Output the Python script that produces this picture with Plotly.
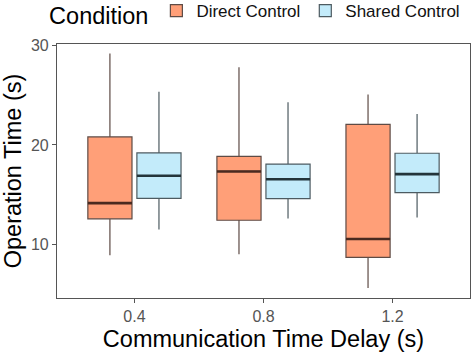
import plotly.graph_objects as go

categories = ["0.4", "0.8", "1.2"]
series_names = ["Direct Control", "Shared Control"]

# Box statistics
direct_low = [8.9, 9.0, 5.6]
direct_q1 = [12.56, 12.42, 8.68]
direct_med = [14.14, 17.33, 10.54]
direct_q3 = [20.8, 18.85, 22.06]
direct_high = [29.2, 27.8, 25.08]

shared_low = [11.5, 12.59, 12.7]
shared_q1 = [14.62, 14.59, 15.2]
shared_med = [16.9, 16.55, 17.06]
shared_q3 = [19.19, 18.07, 19.16]
shared_high = [25.35, 24.3, 23.1]

y_ticks = [10, 20, 30]

FILLS = ["#FF9F78", "#C3EBFA"]
LINES = ["#5e4b45", "#4d5b61"]
MEDS = ["#4a2a20", "#23343a"]
BOXGAP = 0.24
GROUPGAP = 0.1

pos = list(range(len(categories)))
stats = [
    (direct_low, direct_q1, direct_med, direct_q3, direct_high),
    (shared_low, shared_q1, shared_med, shared_q3, shared_high),
]

fig = go.Figure()
n = len(stats)
slot = 0.5 * (1 - BOXGAP)  # width of one trace slot (category width = 1)
half_box = slot * (1 - GROUPGAP) / 2
for k, (lo, q1, med, q3, hi) in enumerate(stats):
    fig.add_trace(go.Box(
        name=series_names[k],
        x=pos,
        lowerfence=lo, q1=q1, median=med, q3=q3, upperfence=hi,
        fillcolor=FILLS[k],
        line=dict(color=LINES[k], width=1.2),
        whiskerwidth=0,
        boxpoints=False,
        offsetgroup=str(k),
    ))
for k, (lo, q1, med, q3, hi) in enumerate(stats):
    off = -slot * (n - 1) / 2 + slot * k
    xs, ys = [], []
    for i, m in zip(pos, med):
        xs += [i + off - half_box, i + off + half_box, None]
        ys += [m, m, None]
    fig.add_trace(go.Scatter(
        x=xs, y=ys, mode="lines",
        line=dict(color=MEDS[k], width=2.6),
        showlegend=False, hoverinfo="skip",
    ))

FONT = "Liberation Sans, Arial, Helvetica, sans-serif"
fig.update_layout(
    width=474, height=356,
    margin=dict(l=57, r=4, t=44, b=58, autoexpand=False),
    paper_bgcolor="white", plot_bgcolor="white",
    boxmode="group", boxgap=BOXGAP, boxgroupgap=GROUPGAP,
    font=dict(family=FONT, color="#000000"),
    showlegend=True,
    legend=dict(
        orientation="h",
        x=-0.024, xanchor="left",
        y=1.12, yanchor="middle",
        title=dict(text="Condition", font=dict(size=23.5, color="#000"), side="left"),
        font=dict(size=17, color="#111"),
        itemwidth=30,
        traceorder="normal",
    ),
    xaxis=dict(
        range=[-0.6, 2.6],
        tickmode="array", tickvals=pos, ticktext=categories,
        showgrid=False, zeroline=False,
        showline=True, linecolor="#555", linewidth=1.2, mirror=True,
        ticks="outside", ticklen=4, tickcolor="#555",
        tickfont=dict(size=16, color="#555"),
        title=dict(text="Communication Time Delay (s)", font=dict(size=23.5, color="#000"), standoff=6),
    ),
    yaxis=dict(
        range=[4.6, 30.15],
        tickmode="array", tickvals=y_ticks,
        showgrid=False, zeroline=False,
        showline=True, linecolor="#555", linewidth=1.2, mirror=True,
        ticks="outside", ticklen=4, tickcolor="#555",
        tickfont=dict(size=16, color="#555"),
        title=dict(text="Operation Time (s)", font=dict(size=23.5, color="#000"), standoff=4),
    ),
)

fig.write_html("out.html", config={"displayModeBar": False})
with open("out.html", encoding="utf-8") as f:
    html = f.read()
html = html.replace("<head>", "<head><style>html,body{margin:0;padding:0;overflow:hidden;}</style>", 1)
with open("out.html", "w", encoding="utf-8") as f:
    f.write(html)
